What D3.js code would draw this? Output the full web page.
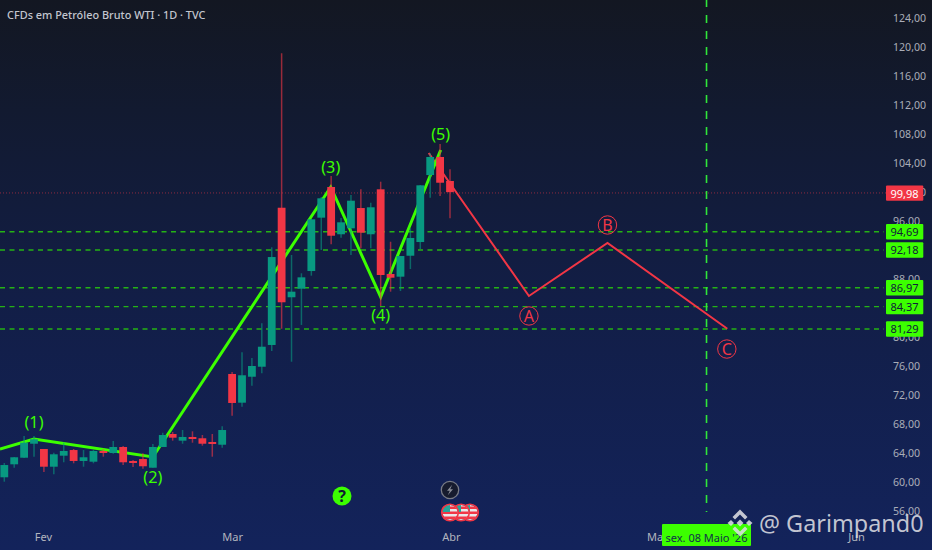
<!DOCTYPE html>
<html><head><meta charset="utf-8">
<script src="https://d3js.org/d3.v7.min.js"></script>
<style>html,body{margin:0;padding:0;background:#131722;overflow:hidden}svg{display:block}</style>
</head><body><svg id="c" width="932" height="550"></svg>
<script>
const opens=[60.65,62.44,63.35,65.28,64.55,62.11,63.63,64.41,62.90,62.80,64.28,64.00,64.83,62.90,63.17,61.97,64.83,66.62,65.70,66.21,66.03,65.52,65.14,74.90,70.94,74.52,75.90,78.90,97.83,85.48,86.66,89.10,96.46,100.69,94.17,94.99,97.79,94.17,100.37,88.69,88.32,91.21,93.10,102.34,104.83,101.52];
const closes=[62.34,63.41,65.42,65.89,62.11,63.82,64.28,62.90,63.41,64.28,64.00,64.83,62.72,62.62,62.17,64.83,66.48,66.11,66.21,65.93,65.28,65.24,67.17,70.90,74.72,76.00,78.66,91.03,84.79,86.25,88.23,96.23,99.13,93.97,95.82,98.80,94.39,97.89,88.55,88.18,91.17,93.66,100.92,104.83,101.28,99.98];
const highs=[62.62,63.45,66.34,66.34,64.55,64.04,65.42,64.55,64.41,64.41,64.55,65.66,64.97,63.03,63.96,65.24,66.80,66.90,67.17,66.99,66.48,66.62,67.68,75.17,77.89,77.10,81.89,92.37,119.13,91.31,88.79,96.28,99.31,102.21,96.41,99.59,100.37,98.52,101.42,93.14,91.17,95.00,100.97,105.34,106.62,103.13];
const lows=[60.04,61.97,63.31,63.49,61.38,61.06,62.72,62.58,62.11,62.58,63.49,63.90,62.34,62.07,61.83,61.97,64.83,65.70,65.28,65.42,65.01,63.49,64.73,69.14,70.39,73.28,75.00,78.07,81.14,76.59,81.66,88.46,92.00,92.79,93.70,91.31,92.23,92.23,84.28,86.25,86.34,89.38,92.14,99.21,99.45,96.37];
const priceTicks=[56,60,64,68,72,76,80,84,88,92,96,100,104,108,112,116,120,124];
const timeTickBars=[3.9,23,45.1,65.8,86];
const timeTickLabels=["Fev","Mar","Abr","Mai","Jun"];
const levels=[94.69,92.18,86.97,84.37,81.29];
const lastPrice=99.98;
const greenWaveBars=[-0.44,3,15,32.96,38,44.06];
const greenWavePrices=[64.55,65.93,63.45,100.69,85.52,105.79];
const greenLabels=["(1)","(2)","(3)","(4)","(5)"];
const greenLabelPrices=[68.4,60.7,103.5,83.05,108.05];
const redWaveBars=[42.85,52.97,60.9,73];
const redWavePrices=[105.38,85.66,92.97,81.14];
const redLabels=["A","B","C"];
const redLabelBars=[52.97,60.9,72.95];
const redLabelPrices=[82.9,95.45,78.34];
const markerBar=70.9;
const markerLabel="sex. 08 Maio '26";
const titleText="CFDs em Petróleo Bruto WTI · 1D · TVC";
const watermark="@ Garimpand0";

const W=932,H=550,UI='"Noto Sans",sans-serif';
const G='#3cff00',R='#f23645',T='#089981';
const x=d3.scaleLinear().domain([0,45]).range([4.3,450]);
const y=d3.scaleLinear().domain([56,124]).range([511,18]);
const svg=d3.select('#c');
const defs=svg.append('defs');
const bg=defs.append('linearGradient').attr('id','bg').attr('x1',0).attr('y1',0).attr('x2',0).attr('y2',1);
[[0,'#131722'],[.2,'#121a30'],[.55,'#121e47'],[1,'#13235b']].forEach(s=>bg.append('stop').attr('offset',s[0]).attr('stop-color',s[1]));
svg.append('rect').attr('width',W).attr('height',H).attr('fill','url(#bg)');

// price line + levels
svg.append('line').attr('x1',0).attr('x2',886).attr('y1',y(lastPrice)+.8).attr('y2',y(lastPrice)+.8)
 .attr('stroke',R).attr('stroke-opacity',.55).attr('stroke-width',1).attr('stroke-dasharray','1 2');
const lvOff=1.3;
svg.selectAll('.lv').data(levels).join('line').attr('x1',0).attr('x2',884)
 .attr('y1',d=>y(d)+lvOff).attr('y2',d=>y(d)+lvOff)
 .attr('stroke','#25b315').attr('stroke-width',1.4).attr('stroke-dasharray','5 4.5');
// vertical marker
svg.append('line').attr('x1',x(markerBar)).attr('x2',x(markerBar)).attr('y1',-1).attr('y2',512)
 .attr('stroke','#30e63a').attr('stroke-width',1.6).attr('stroke-dasharray','8 8');

// waves
const ln=d3.line().x(d=>x(d[0])).y(d=>y(d[1]));
svg.append('path').attr('d',ln(d3.zip(redWaveBars,redWavePrices))).attr('fill','none').attr('stroke',R).attr('stroke-width',2);
svg.append('path').attr('d',ln(d3.zip(greenWaveBars,greenWavePrices))).attr('fill','none').attr('stroke',G).attr('stroke-width',3);

// candles
const bars=d3.range(opens.length);
const col=i=>closes[i]>=opens[i]?T:R;
svg.selectAll('.w').data(bars).join('line').attr('x1',x).attr('x2',x)
 .attr('y1',i=>y(highs[i])).attr('y2',i=>y(lows[i])).attr('stroke',col).attr('stroke-width',1.5).attr('stroke-opacity',.6);
svg.selectAll('.b').data(bars).join('rect').attr('x',i=>x(i)-3.9).attr('width',7.8)
 .attr('y',i=>y(Math.max(opens[i],closes[i])))
 .attr('height',i=>Math.max(1.6,Math.abs(y(opens[i])-y(closes[i])))).attr('fill',col);

// wave labels
svg.selectAll('.gl').data(greenLabels).join('text').attr('x',(d,i)=>x(greenWaveBars[i+1]))
 .attr('y',(d,i)=>y(greenLabelPrices[i])).attr('text-anchor','middle').attr('dominant-baseline','central')
 .attr('fill',G).attr('font-family',UI).attr('font-size',17).attr('textLength',19).attr('lengthAdjust','spacingAndGlyphs').text(d=>d);
const rg=svg.selectAll('.rl').data(redLabels).join('g').attr('transform',(d,i)=>`translate(${x(redLabelBars[i])},${y(redLabelPrices[i])})`);
rg.append('circle').attr('r',9.2).attr('fill','none').attr('stroke',R).attr('stroke-width',1);
rg.append('text').attr('text-anchor','middle').attr('dominant-baseline','central').attr('fill',R)
 .attr('font-family',UI).attr('font-size',16).text(d=>d);

// axes
const ya=d3.axisRight(y).tickValues(priceTicks).tickSize(0).tickPadding(0).tickFormat(d=>d3.format('.2f')(d).replace('.',','));
const yg=svg.append('g').attr('transform','translate(893,0)').call(ya);
yg.select('.domain').remove();
yg.selectAll('text').attr('fill','#a9adb8').attr('font-family',UI).attr('font-size',10.6);
const xa=d3.axisBottom(x).tickValues(timeTickBars).tickSize(0).tickPadding(0).tickFormat((d,i)=>timeTickLabels[i]);
const xg=svg.append('g').attr('transform','translate(0,533)').call(xa);
xg.select('.domain').remove();
xg.selectAll('text').attr('fill','#b2b5be').attr('font-family',UI).attr('font-size',11);

// price labels
const lb=svg.selectAll('.pl').data(levels).join('g').attr('transform',d=>`translate(886,${y(d)+lvOff})`);
lb.append('rect').attr('x',0).attr('y',-7.7).attr('width',37.3).attr('height',15.4).attr('rx',1).attr('fill',G);
lb.append('text').attr('x',18.6).attr('text-anchor','middle').attr('dominant-baseline','central').attr('fill','#10203a')
 .attr('font-family',UI).attr('font-size',11).text(d=>d3.format('.2f')(d).replace('.',','));
const lp=svg.append('g').attr('transform',`translate(886,${y(lastPrice)+1})`);
lp.append('rect').attr('y',-7.7).attr('width',37.3).attr('height',15.4).attr('rx',1).attr('fill',R);
lp.append('text').attr('x',18.6).attr('text-anchor','middle').attr('dominant-baseline','central').attr('fill','#fff')
 .attr('font-family',UI).attr('font-size',11).text(d3.format('.2f')(lastPrice).replace('.',','));

// title
svg.append('text').attr('x',7).attr('y',19).attr('fill','#c3c6cf').attr('font-family',UI).attr('font-size',10.9).attr('font-weight',500).text(titleText);

// icons
const q=svg.append('g').attr('transform','translate(342,496)');
q.append('circle').attr('r',9.5).attr('fill',G);
q.append('text').attr('text-anchor','middle').attr('dominant-baseline','central').attr('font-family',UI).attr('font-weight',700).attr('font-size',16).attr('fill','#0d1a30').text('?');
const z=svg.append('g').attr('transform','translate(450,490)');
z.append('circle').attr('r',8.7).attr('fill','#161b2e').attr('stroke','#787b86').attr('stroke-width',1.3);
z.append('path').attr('d','M2.2-5.2-3 .8H-.2L-2.2 5.2 3-.8H.2Z').attr('fill','#8a8d98');
const flagCenters=[470,461,450];
flagCenters.forEach((cx,i)=>{
 const id='fc'+i;
 defs.append('clipPath').attr('id',id).append('circle').attr('r',7.6);
 const f=svg.append('g').attr('transform',`translate(${cx},512.5)`);
 f.append('circle').attr('r',7.6).attr('fill','#e8e8ea');
 const c=f.append('g').attr('clip-path',`url(#${id})`);
 [-6,-1,4].forEach(s=>c.append('rect').attr('x',-8).attr('y',s).attr('width',16).attr('height',2.5).attr('fill','#f23645'));
 c.append('rect').attr('x',-8).attr('y',-8).attr('width',8).attr('height',7.5).attr('fill','#26a69a');
 f.append('circle').attr('r',8.3).attr('fill','none').attr('stroke',R).attr('stroke-width',1.6);
});

// marker label
const ml=svg.append('g').attr('transform','translate(662,524)');
ml.append('rect').attr('width',89).attr('height',22).attr('rx',1).attr('fill',G);
ml.append('text').attr('x',44.5).attr('y',13.5).attr('text-anchor','middle').attr('dominant-baseline','central').attr('fill','#12304a')
 .attr('font-family',UI).attr('font-size',11).text(markerLabel);

// watermark
const wm=svg.append('g').attr('fill','#dcdde2').attr('fill-opacity',.88);
const logo=wm.append('g').attr('transform','translate(740,523)');
const chevs=['M0-13.5 7.5-6 5-3.5 0-8.5-5-3.5-7.5-6Z','M0 13.5 7.5 6 5 3.5 0 8.5-5 3.5-7.5 6Z','M0-3.5 3.5 0 0 3.5-3.5 0Z','M-9-3 -6 0-9 3-12.5 0Z','M9-3 12.5 0 9 3 6 0Z'];
logo.selectAll('path').data(chevs).join('path').attr('d',d=>d);
wm.append('text').attr('x',759).attr('y',532).attr('font-family',UI).attr('font-size',23.4).text(watermark);
</script></body></html>
